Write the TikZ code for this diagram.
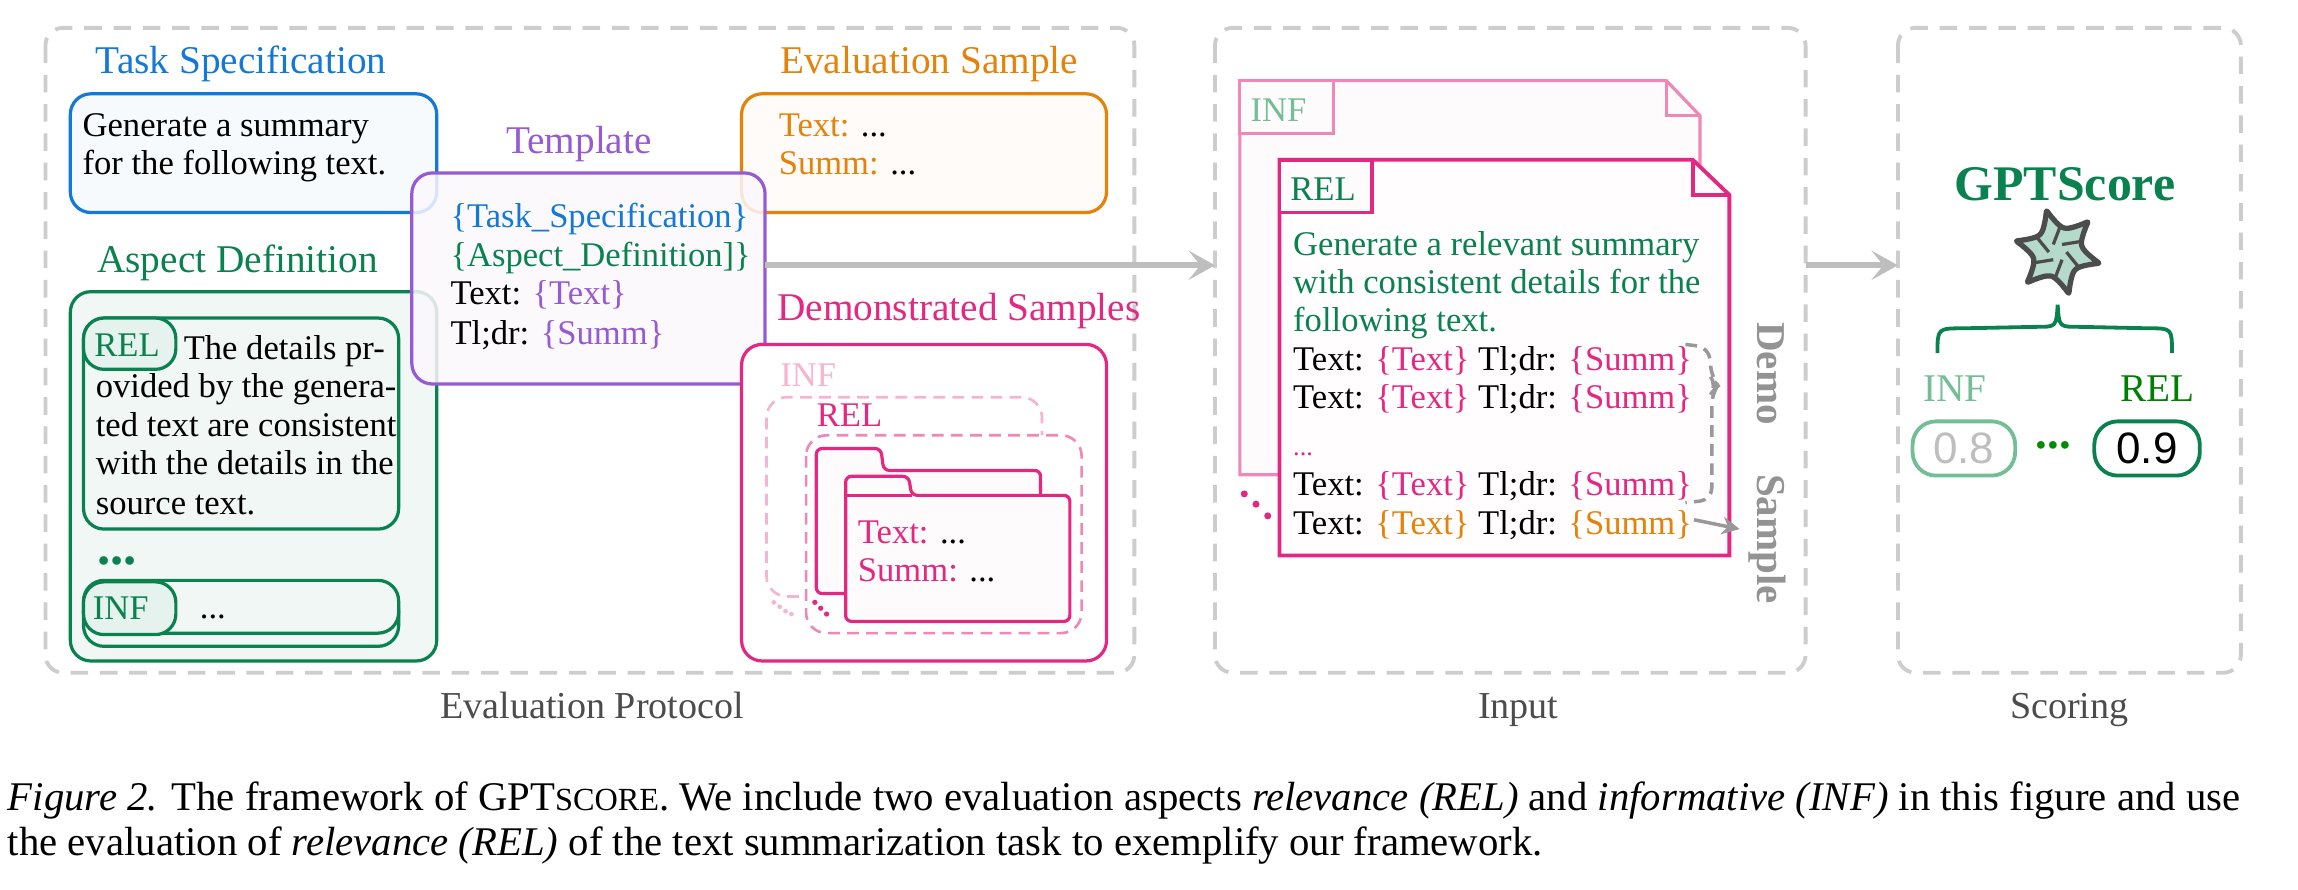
\documentclass[tikz,border=0pt]{standalone}
\usepackage{fontspec}
\setmainfont{Liberation Serif}
\newfontfamily\sansf{Liberation Sans}
\usetikzlibrary{arrows.meta}
\definecolor{cblue}{RGB}{20,120,215}
\definecolor{cgreen}{RGB}{10,130,80}
\definecolor{cpurple}{RGB}{150,90,210}
\definecolor{corange}{RGB}{228,130,10}
\definecolor{cpink}{RGB}{228,40,130}
\definecolor{clpink}{RGB}{240,135,185}
\definecolor{cvlpink}{RGB}{245,180,210}
\definecolor{clgreen}{RGB}{115,190,150}
\definecolor{cgray}{RGB}{205,205,205}
\definecolor{cagray}{RGB}{190,190,190}
\newcommand{\fsz}{\fontsize{11.8}{13}\selectfont}
\newcommand{\fhd}{\fontsize{13.4}{15}\selectfont}
\tikzset{
  x=0.5pt,y=-0.5pt,
  t/.style={anchor=base west,inner sep=0,font=\fsz},
  hd/.style={anchor=base west,inner sep=0,font=\fhd},
  panel/.style={draw=cgray,line width=1.3pt,dash pattern=on 6pt off 4pt,rounded corners=6pt},
  rbox/.style={line width=1.1pt,rounded corners=7pt},
  flow/.style={draw=cagray,line width=2pt,-{Stealth[length=9pt,width=10pt,inset=4pt]}},
  lbl/.style={anchor=base,inner sep=0,font=\fontsize{13}{14}\selectfont,text=black!70},
}
\begin{document}
\begin{tikzpicture}
\useasboundingbox (0,0) rectangle (1568,607);
% panels
\draw[panel] (31,19) rectangle (774,459);
\draw[panel] (829,19) rectangle (1232,459);
\draw[panel] (1295,19) rectangle (1529,459);
\node[lbl] (l1) at (404,490) {Evaluation Protocol};
\node[lbl] (l2) at (1036,490) {Input};
\node[lbl] (l3) at (1412,490) {Scoring};
% Task spec
\node[hd,text=cblue] (tsh) at (65,50) {Task Specification};
\draw[rbox,draw=cblue,fill=cblue!4] (48,64) rectangle (298,145);
\node[t] (ts1) at (56,93) {Generate a summary};
\node[t] (ts2) at (56,119) {for the following text.};
% Aspect def
\node[hd,text=cgreen] (adh) at (66,186) {Aspect Definition};
\draw[rbox,draw=cgreen,fill=cgreen!6] (48,199) rectangle (298,451);
\draw[rbox,draw=cgreen,fill=cgreen!6] (57,217) rectangle (272,361);
\draw[rbox,draw=cgreen,fill=cgreen!10] (57,217) rectangle (120,252);
\node[t,text=cgreen] (rel) at (64,243) {REL};
\node[t] (a1) at (125,245) {The details pr-};
\node[t] (a2) at (65,271) {ovided by the genera-};
\node[t] (a3) at (65,298) {ted text are consistent};
\node[t] (a4) at (65,324) {with the details in the};
\node[t] (a5) at (65,351) {source text.};
\node[t,text=cgreen,font=\bfseries\fontsize{18}{18}\selectfont] (adots) at (66,385) {...};
\draw[rbox,draw=cgreen,fill=cgreen!6] (57,403) rectangle (272,441);
\draw[rbox,draw=cgreen,fill=cgreen!6] (57,396) rectangle (272,432);
\draw[rbox,draw=cgreen,fill=cgreen!10] (57,397) rectangle (120,433);
\node[t,text=cgreen] (inf) at (63,423) {INF};
\node[t] (idots) at (136,422) {...};
% Eval sample
\node[hd,text=corange] (esh) at (532,50) {Evaluation Sample};
\draw[rbox,draw=corange,fill=corange!3] (506,64) rectangle (755,145);
\node[t,text=corange] (es1) at (531,93) {Text: \textcolor{black}{...}};
\node[t,text=corange] (es2) at (531,119) {Summ: \textcolor{black}{...}};
% Template
\node[hd,text=cpurple,anchor=base] (tph) at (395,105) {Template};
\draw[rbox,draw=cpurple,fill=cpurple!4,fill opacity=0.85] (281,118) rectangle (522,262);
\node[t,text=cblue] (tp1) at (307,155) {\{Task\_Specification\}};
\node[t,text=cgreen] (tp2) at (307,182) {\{Aspect\_Definition]\}};
\node[t] (tp3) at (307,208) {Text: \textcolor{cpurple}{\{Text\}}};
\node[t] (tp4) at (307,235) {Tl;dr: \textcolor{cpurple}{\{Summ\}}};
% Demonstrated samples
\node[hd,text=cpink] (dsh) at (530,219) {Demonstrated Samples};
\draw[rbox,draw=cpink,fill=white] (506,235) rectangle (755,451);
\node[t,text=cvlpink] (dinf) at (532,264) {INF};
\draw[rbox,draw=cvlpink,dash pattern=on 4pt off 2.5pt,line width=0.9pt] (523,271) rectangle (711,407);
\node[t,text=cpink] (drel) at (557,291) {REL};
\draw[rbox,draw=clpink,fill=white,dash pattern=on 4pt off 2.5pt,line width=0.9pt] (550,297) rectangle (738,432);
\draw[cpink,line width=1.1pt,fill=cpink!2,rounded corners=2pt] (557,405) -- (557,306) -- (601,306) -- (603,321) -- (710,321) -- (710,405) -- cycle;
\draw[cpink,line width=1.1pt,fill=cpink!2,rounded corners=2pt] (577,424) -- (577,325) -- (620,325) -- (622,338) -- (730,338) -- (730,424) -- cycle;
\draw[cpink,line width=1.1pt] (577,338) -- (622,338);
\node[t,text=cpink] (ds1) at (585,371) {Text: \textcolor{black}{...}};
\node[t,text=cpink] (ds2) at (585,397) {Summ: \textcolor{black}{...}};
\foreach \p in {(528,411),(532,414),(536,417),(540,419)} \fill[cvlpink] \p circle (1.6);
\foreach \p in {(556,411),(560,415),(564,419)} \fill[cpink] \p circle (1.8);
% arrows between panels
\coordinate (tplE) at (522,181);
\coordinate (inW) at (829,181);
\coordinate (inE) at (1232,181);
\coordinate (scW) at (1295,181);
\draw[flow] (tplE) -- (inW);
\draw[flow] (inE) -- (scW);
% Input docs
\draw[clpink,line width=1.1pt,fill=cpink!2] (846,55) -- (1137,55) -- (1160,79) -- (1160,324) -- (846,324) -- cycle;
\draw[clpink,line width=1.1pt] (1137,55) -- (1137,79) -- (1160,79);
\draw[clpink,line width=1.1pt,fill=cpink!2] (846,55) rectangle (910,91);
\node[t,text=clgreen] (dinf2) at (853,83) {INF};
\foreach \p in {(849,337),(857,344),(865,352)} \fill[cpink] \p circle (2.4);
\draw[cpink,line width=1.3pt,fill=cpink!1] (873,109) -- (1155,109) -- (1180,133) -- (1180,379) -- (873,379) -- cycle;
\draw[cpink,line width=1.3pt] (1155,109) -- (1155,133) -- (1180,133);
\draw[cpink,line width=1.3pt,fill=cpink!2] (873,109) rectangle (936,145);
\node[t,text=cgreen] (drel2) at (880,137) {REL};
\node[t,text=cgreen] (g1) at (882,174) {Generate a relevant summary};
\node[t,text=cgreen] (g2) at (882,200) {with consistent details for the};
\node[t,text=cgreen] (g3) at (882,226) {following text.};
\node[t] (d1) at (882,253) {Text: \textcolor{cpink}{\{Text\}} Tl;dr: \textcolor{cpink}{\{Summ\}}};
\node[t] (d2) at (882,279) {Text: \textcolor{cpink}{\{Text\}} Tl;dr: \textcolor{cpink}{\{Summ\}}};
\node[t,text=cpink,font=\fontsize{9}{9}\selectfont] (d3) at (882,311) {...};
\node[t] (d4) at (882,338) {Text: \textcolor{cpink}{\{Text\}} Tl;dr: \textcolor{cpink}{\{Summ\}}};
\node[t] (d5) at (882,365) {Text: \textcolor{corange}{\{Text\}} Tl;dr: \textcolor{corange}{\{Summ\}}};
\draw[gray!80,line width=1.2pt,dash pattern=on 4pt off 2.5pt,rounded corners=4pt] (1150,235) -- (1166,237) -- (1168,258) -- (1172,263) -- (1168,268) -- (1168,341) -- (1150,343);
\coordinate (dsE) at (1187,361);
\draw[gray!80,line width=1.2pt,-{Stealth[length=6pt,width=6pt]}] (d5.east) ++(1,-4) -- (dsE);
\node[anchor=center,inner sep=0,rotate=-90,text=gray!85,font=\bfseries\fontsize{14}{14}\selectfont] (demo) at (1206,316) {Demo\hspace{1.2em}Sample};
% Scoring
\node[anchor=base,inner sep=0,text=cgreen,font=\bfseries\fontsize{17}{17}\selectfont] (gpt) at (1409,137) {GPTScore};
\begin{scope}[shift={(1404,172)}]
\draw[line width=1.8pt,draw=black!70,fill=cgreen!30,line join=round]
  plot[smooth cycle,samples=72,domain=0:355,variable=\a] ({(23+6*sin(6*\a))*cos(\a+8*cos(6*\a))},{(23+6*sin(6*\a))*sin(\a+8*cos(6*\a))});
\foreach \k in {0,60,...,300} \draw[line width=1.1pt,draw=black!70] (\k:6) -- (\k+35:17);
\end{scope}
\draw[cgreen,line width=1.3pt] (1322,241) .. controls (1322,224) .. (1340,224) -- (1390,223) .. controls (1403,223) .. (1404,208) .. controls (1405,223) .. (1418,223) -- (1466,224) .. controls (1482,224) .. (1482,241);
\node[anchor=base,inner sep=0,text=clgreen,font=\fhd] (sinf) at (1334,274) {INF};
\node[anchor=base,inner sep=0,text=green!50!black,font=\fhd] (srel) at (1472,274) {REL};
\node[draw=clgreen,line width=1.3pt,rounded corners=8pt,minimum width=35pt,minimum height=18.5pt,text=cagray,font=\sansf\fontsize{15}{15}\selectfont] (s1) at (1340,306) {0.8};
\node[draw=cgreen,line width=1.3pt,rounded corners=8pt,minimum width=36pt,minimum height=18.5pt,font=\sansf\fontsize{15}{15}\selectfont] (s2) at (1465,306) {0.9};
\node[anchor=base,inner sep=0,text=green!55!black,font=\bfseries\fontsize{16}{16}\selectfont] (sd) at (1401,306) {...};
% caption
\node[anchor=base west,inner sep=0,font=\fontsize{13.9}{15}\selectfont] (cap1) at (5,553) {\textit{Figure 2.} The framework of GPT{\fontsize{11}{11}\selectfont SCORE}. We include two evaluation aspects \textit{relevance (REL)} and \textit{informative (INF)} in this figure and use};
\node[anchor=base west,inner sep=0,font=\fontsize{13.9}{15}\selectfont] (cap2) at (5,584) {the evaluation of \textit{relevance (REL)} of the text summarization task to exemplify our framework.};
\end{tikzpicture}
\end{document}
